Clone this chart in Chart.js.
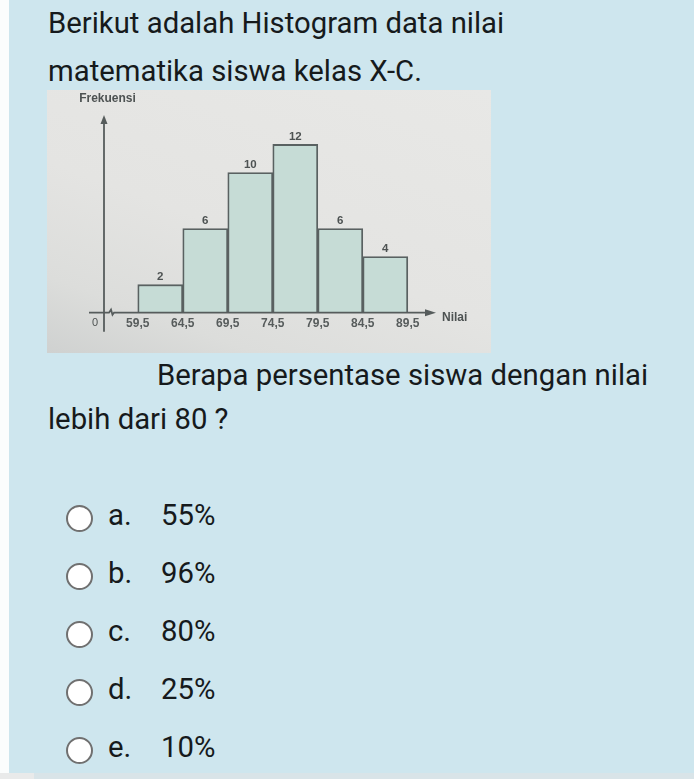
<!DOCTYPE html>
<html>
<head>
<meta charset="utf-8">
<script src="https://cdn.jsdelivr.net/npm/chart.js@4.4.1/dist/chart.umd.min.js"></script>
<style>
  html, body { margin:0; padding:0; }
  body { width:694px; height:779px; background:#cee6ee; position:relative; overflow:hidden;
         font-family: Roboto, "Noto Sans", sans-serif; color:#161a1c; }
  #leftstrip { position:absolute; left:0; top:0; width:9px; height:779px; background:#fbfdfd; }
  #botstrip { position:absolute; left:0; top:773px; width:694px; height:6px; background:#d9e4e8; }
  #botstrip2 { position:absolute; left:0; top:773px; width:34px; height:6px; background:#e9eaea; }
  .t { position:absolute; font-size:29.3px; white-space:nowrap; line-height:29px; }
  #photo { position:absolute; left:47px; top:90px; width:444px; height:263px;
           background: linear-gradient(20deg, #cfd1d0 0%, #dcdddb 18%, #e4e4e2 45%, #e8e8e6 100%); }
  #photo canvas { filter: blur(0.45px); }
  .radio { position:absolute; left:66px; width:23px; height:23px; border:2px solid #707070;
           border-radius:50%; background:#ffffff; }
</style>
</head>
<body>
<div id="leftstrip"></div>
<div id="botstrip"></div>
<div id="botstrip2"></div>

<div class="t" style="left:48px; top:9px;">Berikut adalah Histogram data nilai</div>
<div class="t" style="left:48px; top:57px;">matematika siswa kelas X-C.</div>

<div id="photo"><canvas id="c" width="444" height="263"></canvas></div>

<div class="t" style="left:157px; top:361px;">Berapa persentase siswa dengan nilai</div>
<div class="t" style="left:48px; top:405px;">lebih dari 80 ?</div>

<div id="opts"></div>

<script>
// ---- data ----
const boundaries = [59.5, 64.5, 69.5, 74.5, 79.5, 84.5, 89.5];
const frequencies = [2, 6, 10, 12, 6, 4];
const yAxisTitle = "Frekuensi";
const xAxisTitle = "Nilai";
const optionLetters = ["a.", "b.", "c.", "d.", "e."];
const optionValues = ["55%", "96%", "80%", "25%", "10%"];

// ---- answer options ----
const optsDiv = document.getElementById('opts');
optionLetters.forEach((l, i) => {
  const cy = 518.5 + i * 58;
  const r = document.createElement('div');
  r.className = 'radio';
  r.style.top = (cy - 13.5) + 'px';
  optsDiv.appendChild(r);
  const a = document.createElement('div');
  a.className = 't';
  a.style.left = '108px';
  a.style.top = (cy - 17.5) + 'px';
  a.textContent = l;
  optsDiv.appendChild(a);
  const v = document.createElement('div');
  v.className = 't';
  v.style.left = '161px';
  v.style.top = (cy - 17.5) + 'px';
  v.textContent = optionValues[i];
  optsDiv.appendChild(v);
});

// ---- chart ----
const points = frequencies.map((f, i) => ({ x: (boundaries[i] + boundaries[i + 1]) / 2, y: f }));
const ink = '#565c5c';

const axesPlugin = {
  id: 'axesPlugin',
  afterDatasetsDraw(chart) {
    const { ctx, chartArea: ca, scales } = chart;
    const x0 = ca.left, yb = scales.y.getPixelForValue(0);
    ctx.save();
    ctx.strokeStyle = ink;
    ctx.fillStyle = ink;
    ctx.lineWidth = 1.8;
    // y axis
    ctx.beginPath();
    ctx.moveTo(x0, yb + 19);
    ctx.lineTo(x0, ca.top + 7);
    ctx.stroke();
    ctx.beginPath();
    ctx.moveTo(x0, ca.top);
    ctx.lineTo(x0 - 3.5, ca.top + 9);
    ctx.lineTo(x0 + 3.5, ca.top + 9);
    ctx.closePath();
    ctx.fill();
    // x axis
    ctx.beginPath();
    ctx.moveTo(x0 - 15, yb);
    ctx.lineTo(x0 + 5, yb);
    ctx.lineTo(x0 + 7, yb - 3);
    ctx.lineTo(x0 + 8.5, yb + 2);
    ctx.lineTo(x0 + 10, yb);
    ctx.lineTo(ca.right - 7, yb);
    ctx.stroke();
    ctx.beginPath();
    ctx.moveTo(ca.right + 3, yb);
    ctx.lineTo(ca.right - 8, yb - 3.5);
    ctx.lineTo(ca.right - 8, yb + 3.5);
    ctx.closePath();
    ctx.fill();
    // texts
    ctx.fillStyle = '#4d5252';
    ctx.font = 'bold 12px "Liberation Sans", Arial, sans-serif';
    ctx.textAlign = 'center';
    ctx.textBaseline = 'middle';
    ctx.fillText(yAxisTitle, x0 + 3.5, ca.top - 16);
    ctx.textAlign = 'left';
    ctx.fillText(xAxisTitle, ca.right + 9, yb + 5);
    ctx.textAlign = 'center';
    ctx.font = '11px "Liberation Sans", Arial, sans-serif';
    ctx.fillText('0', x0 - 9, yb + 10);
    // bar value labels
    const meta = chart.getDatasetMeta(0);
    ctx.font = 'bold 11.5px "Liberation Sans", Arial, sans-serif';
    meta.data.forEach((bar, i) => {
      ctx.fillText(String(frequencies[i]), bar.x, bar.y - 7.5);
    });
    ctx.restore();
  }
};

new Chart(document.getElementById('c'), {
  type: 'bar',
  data: {
    datasets: [{
      data: points,
      backgroundColor: '#c6dcd6',
      borderColor: '#596161',
      borderWidth: 1.8,
      borderSkipped: 'bottom',
      categoryPercentage: 1.0,
      barPercentage: 1.0
    }]
  },
  options: {
    responsive: false,
    animation: false,
    devicePixelRatio: 1,
    layout: { padding: { left: 57, right: 58, top: 25, bottom: 0 } },
    plugins: { legend: { display: false }, tooltip: { enabled: false } },
    scales: {
      x: {
        type: 'linear',
        offset: false,
        min: 55.75,
        max: 92.3,
        grid: { display: false, drawTicks: false },
        border: { display: false },
        afterBuildTicks: (scale) => { scale.ticks = boundaries.map(v => ({ value: v })); },
        afterFit: (scale) => { scale.height = 40.3; },
        ticks: {
          padding: 4,
          autoSkip: false,
          maxRotation: 0,
          color: '#575c5c',
          font: { size: 12, weight: 'bold', family: '"Liberation Sans", Arial, sans-serif' },
          callback: (v) => String(v).replace('.', ',')
        }
      },
      y: {
        type: 'linear',
        min: 0,
        max: 14.1,
        display: false
      }
    }
  },
  plugins: [axesPlugin]
});
</script>
</body>
</html>
